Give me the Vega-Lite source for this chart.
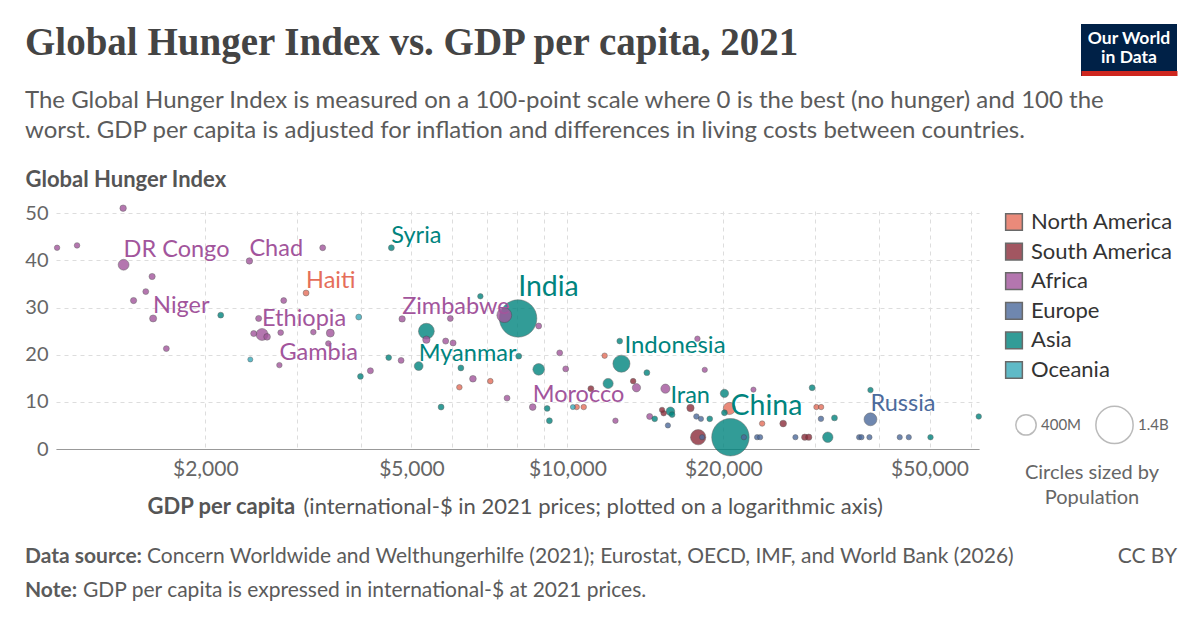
{
  "$schema": "https://vega.github.io/schema/vega-lite/v6.json",
  "background": "white",
  "padding": {"left": 24, "top": 24, "right": 20, "bottom": 10},
  "config": {
    "font": "Lato",
    "view": {"stroke": null},
    "axis": {"labelFont": "Lato", "titleFont": "Lato"},
    "legend": {"labelFont": "Lato", "titleFont": "Lato"}
  },
  "resolve": {"legend": {"color": "independent", "size": "independent"}},
  "spacing": 25,
  "vconcat": [
    {
      "bounds": "flush",
      "spacing": 0,
      "hconcat": [
        {
          "width": 1025,
          "height": 1,
          "title": {
            "text": "Global Hunger Index vs. GDP per capita, 2021",
            "subtitle": ["The Global Hunger Index is measured on a 100-point scale where 0 is the best (no hunger) and 100 the", "worst. GDP per capita is adjusted for inflation and differences in living costs between countries."],
            "orient": "bottom", "anchor": "start", "frame": "group", "dx": -31, "offset": -1,
            "baseline": "top",
            "font": "Liberation Serif", "fontSize": 39, "fontWeight": "bold", "color": "#444444",
            "subtitleFont": "Lato", "subtitleFontSize": 24, "subtitleColor": "#5b5b5b", "subtitleLineHeight": 29.5, "subtitlePadding": 26
          },
          "data": {"values": []},
          "mark": {"type": "point"}
        },
        {
          "width": 96,
          "height": 52,
          "view": {"fill": "#002147", "stroke": null},
          "data": {"values": [{"t": ["Our World", "in Data"], "p": 0.5}]},
          "mark": {"type": "text", "color": "white", "font": "Lato", "fontSize": 17.5, "fontWeight": "bold", "lineHeight": 19, "align": "center", "baseline": "middle", "dy": -11},
          "encoding": {
            "text": {"field": "t"},
            "x": {"field": "p", "type": "quantitative", "scale": {"domain": [0, 1]},
              "axis": {"orient": "bottom", "labels": false, "ticks": false, "grid": false, "title": null, "domainColor": "#CE261E", "domainWidth": 5, "offset": -3}}
          }
        }
      ]
    },
    {
      "spacing": 29,
      "resolve": {"legend": {"color": "independent", "size": "independent"}},
      "vconcat": [
        {
          "width": 923,
          "height": 238,
          "data": {"values": [
            {"continent": "Africa", "gdp": 1388, "ghi": 51.1, "pop": 17000000},
            {"continent": "Africa", "gdp": 1035, "ghi": 42.7, "pop": 5000000},
            {"continent": "Africa", "gdp": 1131, "ghi": 43.2, "pop": 6000000},
            {"continent": "Africa", "gdp": 1391, "ghi": 39.1, "pop": 95000000, "label": "DR Congo"},
            {"continent": "Africa", "gdp": 2433, "ghi": 39.9, "pop": 17000000, "label": "Chad"},
            {"continent": "Africa", "gdp": 3370, "ghi": 42.7, "pop": 10000000},
            {"continent": "Africa", "gdp": 1579, "ghi": 36.6, "pop": 14000000},
            {"continent": "Africa", "gdp": 1535, "ghi": 33.4, "pop": 10000000},
            {"continent": "Africa", "gdp": 1454, "ghi": 31.5, "pop": 14000000},
            {"continent": "Africa", "gdp": 1586, "ghi": 27.7, "pop": 25000000, "label": "Niger"},
            {"continent": "Africa", "gdp": 2834, "ghi": 31.5, "pop": 10000000},
            {"continent": "Africa", "gdp": 2535, "ghi": 27.7, "pop": 12000000},
            {"continent": "Africa", "gdp": 2480, "ghi": 24.5, "pop": 12000000},
            {"continent": "Africa", "gdp": 2574, "ghi": 24.3, "pop": 120000000, "label": "Ethiopia"},
            {"continent": "Africa", "gdp": 2632, "ghi": 23.8, "pop": 20000000},
            {"continent": "Africa", "gdp": 2796, "ghi": 24.7, "pop": 8000000},
            {"continent": "Africa", "gdp": 3233, "ghi": 24.8, "pop": 6000000},
            {"continent": "Africa", "gdp": 3486, "ghi": 24.6, "pop": 40000000},
            {"continent": "Africa", "gdp": 3455, "ghi": 22.4, "pop": 5000000},
            {"continent": "Africa", "gdp": 1682, "ghi": 21.3, "pop": 10000000},
            {"continent": "Africa", "gdp": 2780, "ghi": 17.8, "pop": 5000000, "label": "Gambia"},
            {"continent": "Africa", "gdp": 4797, "ghi": 27.6, "pop": 16000000, "label": "Zimbabwe"},
            {"continent": "Africa", "gdp": 4775, "ghi": 18.8, "pop": 10000000},
            {"continent": "Africa", "gdp": 4166, "ghi": 16.6, "pop": 12000000},
            {"continent": "Africa", "gdp": 5943, "ghi": 27.7, "pop": 10000000},
            {"continent": "Africa", "gdp": 5343, "ghi": 23.2, "pop": 30000000},
            {"continent": "Africa", "gdp": 5821, "ghi": 22.9, "pop": 12000000},
            {"continent": "Africa", "gdp": 6016, "ghi": 22.5, "pop": 12000000},
            {"continent": "Africa", "gdp": 7554, "ghi": 28.4, "pop": 200000000},
            {"continent": "Africa", "gdp": 8802, "ghi": 26.1, "pop": 10000000},
            {"continent": "Africa", "gdp": 9663, "ghi": 20.4, "pop": 10000000},
            {"continent": "Africa", "gdp": 9925, "ghi": 17.0, "pop": 10000000},
            {"continent": "Africa", "gdp": 6571, "ghi": 14.9, "pop": 20000000},
            {"continent": "Africa", "gdp": 7647, "ghi": 10.8, "pop": 10000000},
            {"continent": "Africa", "gdp": 8571, "ghi": 8.9, "pop": 20000000, "label": "Morocco"},
            {"continent": "Africa", "gdp": 17822, "ghi": 23.4, "pop": 5000000},
            {"continent": "Africa", "gdp": 18413, "ghi": 16.8, "pop": 3000000},
            {"continent": "Africa", "gdp": 13591, "ghi": 13.0, "pop": 45000000},
            {"continent": "Africa", "gdp": 15459, "ghi": 12.8, "pop": 60000000},
            {"continent": "Africa", "gdp": 12380, "ghi": 6.0, "pop": 5000000},
            {"continent": "Africa", "gdp": 14414, "ghi": 6.9, "pop": 12000000},
            {"continent": "Africa", "gdp": 22861, "ghi": 12.6, "pop": 2000000},
            {"continent": "Asia", "gdp": 4573, "ghi": 42.7, "pop": 10000000, "label": "Syria"},
            {"continent": "Asia", "gdp": 2142, "ghi": 28.4, "pop": 10000000},
            {"continent": "Asia", "gdp": 6792, "ghi": 32.4, "pop": 5000000},
            {"continent": "Asia", "gdp": 5343, "ghi": 25.0, "pop": 231000000},
            {"continent": "Asia", "gdp": 8033, "ghi": 27.7, "pop": 1408000000, "label": "India"},
            {"continent": "Asia", "gdp": 4519, "ghi": 19.4, "pop": 8000000},
            {"continent": "Asia", "gdp": 3986, "ghi": 15.4, "pop": 8000000},
            {"continent": "Asia", "gdp": 5163, "ghi": 17.6, "pop": 54000000, "label": "Myanmar"},
            {"continent": "Asia", "gdp": 6228, "ghi": 17.2, "pop": 10000000},
            {"continent": "Asia", "gdp": 8054, "ghi": 19.7, "pop": 10000000},
            {"continent": "Asia", "gdp": 8802, "ghi": 16.9, "pop": 113000000},
            {"continent": "Asia", "gdp": 12714, "ghi": 18.1, "pop": 274000000, "label": "Indonesia"},
            {"continent": "Asia", "gdp": 12618, "ghi": 22.9, "pop": 8000000},
            {"continent": "Asia", "gdp": 14236, "ghi": 16.2, "pop": 10000000},
            {"continent": "Asia", "gdp": 5704, "ghi": 8.9, "pop": 10000000},
            {"continent": "Asia", "gdp": 9138, "ghi": 8.6, "pop": 8000000},
            {"continent": "Asia", "gdp": 9231, "ghi": 6.0, "pop": 10000000},
            {"continent": "Asia", "gdp": 11983, "ghi": 13.9, "pop": 80000000},
            {"continent": "Asia", "gdp": 15805, "ghi": 8.0, "pop": 50000000, "label": "Iran"},
            {"continent": "Asia", "gdp": 15926, "ghi": 7.3, "pop": 8000000},
            {"continent": "Asia", "gdp": 14740, "ghi": 6.4, "pop": 8000000},
            {"continent": "Asia", "gdp": 18826, "ghi": 6.4, "pop": 8000000},
            {"continent": "Asia", "gdp": 20096, "ghi": 11.8, "pop": 45000000},
            {"continent": "Asia", "gdp": 20096, "ghi": 7.7, "pop": 10000000},
            {"continent": "Asia", "gdp": 20640, "ghi": 2.5, "pop": 1412000000, "label": "China"},
            {"continent": "Asia", "gdp": 29675, "ghi": 13.0, "pop": 10000000},
            {"continent": "Asia", "gdp": 38459, "ghi": 12.5, "pop": 5000000},
            {"continent": "Asia", "gdp": 32774, "ghi": 6.6, "pop": 10000000},
            {"continent": "Asia", "gdp": 62230, "ghi": 6.9, "pop": 5000000},
            {"continent": "Asia", "gdp": 31811, "ghi": 2.5, "pop": 85000000},
            {"continent": "Asia", "gdp": 50220, "ghi": 2.5, "pop": 5000000},
            {"continent": "Europe", "gdp": 38459, "ghi": 6.3, "pop": 145000000, "label": "Russia"},
            {"continent": "Europe", "gdp": 17742, "ghi": 6.9, "pop": 6000000},
            {"continent": "Europe", "gdp": 18104, "ghi": 6.4, "pop": 3000000},
            {"continent": "Europe", "gdp": 15631, "ghi": 5.0, "pop": 3000000},
            {"continent": "Europe", "gdp": 18197, "ghi": 2.5, "pop": 3000000},
            {"continent": "Europe", "gdp": 21912, "ghi": 2.5, "pop": 3000000},
            {"continent": "Europe", "gdp": 23236, "ghi": 2.5, "pop": 3000000},
            {"continent": "Europe", "gdp": 23551, "ghi": 2.5, "pop": 3000000},
            {"continent": "Europe", "gdp": 27551, "ghi": 2.5, "pop": 3000000},
            {"continent": "Europe", "gdp": 30860, "ghi": 6.4, "pop": 6000000},
            {"continent": "Europe", "gdp": 36570, "ghi": 2.5, "pop": 3000000},
            {"continent": "Europe", "gdp": 36950, "ghi": 2.5, "pop": 3000000},
            {"continent": "Europe", "gdp": 38282, "ghi": 2.5, "pop": 3000000},
            {"continent": "Europe", "gdp": 43800, "ghi": 2.5, "pop": 3000000},
            {"continent": "Europe", "gdp": 45600, "ghi": 2.5, "pop": 3000000},
            {"continent": "North America", "gdp": 3130, "ghi": 33.1, "pop": 11000000, "label": "Haiti"},
            {"continent": "North America", "gdp": 6187, "ghi": 13.1, "pop": 6000000},
            {"continent": "North America", "gdp": 7100, "ghi": 14.4, "pop": 6000000},
            {"continent": "North America", "gdp": 10423, "ghi": 8.9, "pop": 5000000},
            {"continent": "North America", "gdp": 10752, "ghi": 8.9, "pop": 6000000},
            {"continent": "North America", "gdp": 11799, "ghi": 19.8, "pop": 5000000},
            {"continent": "North America", "gdp": 20543, "ghi": 8.6, "pop": 127000000},
            {"continent": "North America", "gdp": 23762, "ghi": 5.4, "pop": 5000000},
            {"continent": "North America", "gdp": 30245, "ghi": 8.9, "pop": 4000000},
            {"continent": "North America", "gdp": 30888, "ghi": 8.9, "pop": 4000000},
            {"continent": "South America", "gdp": 17881, "ghi": 2.5, "pop": 214000000},
            {"continent": "South America", "gdp": 11100, "ghi": 12.8, "pop": 11000000},
            {"continent": "South America", "gdp": 13394, "ghi": 14.4, "pop": 6000000},
            {"continent": "South America", "gdp": 15230, "ghi": 8.3, "pop": 4000000},
            {"continent": "South America", "gdp": 15340, "ghi": 7.6, "pop": 6000000},
            {"continent": "South America", "gdp": 17280, "ghi": 8.7, "pop": 30000000},
            {"continent": "South America", "gdp": 26090, "ghi": 5.4, "pop": 20000000},
            {"continent": "South America", "gdp": 28716, "ghi": 2.5, "pop": 15000000},
            {"continent": "South America", "gdp": 29230, "ghi": 2.5, "pop": 15000000},
            {"continent": "Oceania", "gdp": 3955, "ghi": 28.0, "pop": 10000000},
            {"continent": "Oceania", "gdp": 2443, "ghi": 19.0, "pop": 1000000},
            {"continent": "Oceania", "gdp": 10247, "ghi": 8.9, "pop": 1000000}
          ]},
          "resolve": {"axis": {"x": "independent"}},
          "layer": [
            {
              "mark": {"type": "point", "filled": true, "shape": "circle", "opacity": 0.8, "stroke": "#444444", "strokeWidth": 0.5},
              "encoding": {
                "x": {"field": "gdp", "type": "quantitative",
                  "scale": {"type": "log", "domain": [1030, 62300], "nice": false},
                  "axis": {"orient": "bottom", "values": [2000, 3000, 4000, 5000, 6000, 7000, 8000, 9000, 10000, 20000, 30000, 40000, 50000, 60000],
                    "labelExpr": "indexof([2000, 5000, 10000, 20000, 50000], datum.value) >= 0 ? '$' + format(datum.value, ',') : ''",
                    "labelOverlap": false, "labelBound": false, "labelFlush": false,
                    "labelFontSize": 21, "labelColor": "#666666", "labelPadding": 9,
                    "grid": true, "gridDash": [4, 4], "gridColor": "#dddddd", "ticks": false,
                    "domain": true, "domainColor": "#999999",
                    "title": "GDP per capita", "titleFontWeight": "bold", "titleFontSize": 22, "titleColor": "#555555",
                    "titleAlign": "left", "titleBaseline": "alphabetic", "titleX": 91, "titleY": 64}},
                "y": {"field": "ghi", "type": "quantitative",
                  "scale": {"domain": [0, 50.5], "nice": false},
                  "axis": {"values": [0, 10, 20, 30, 40, 50], "labelFontSize": 20, "labelColor": "#666666", "labelPadding": 8,
                    "grid": true, "gridDash": [4, 4], "gridColor": "#dddddd", "ticks": false, "domain": false,
                    "title": "Global Hunger Index", "titleAngle": 0, "titleAlign": "left", "titleBaseline": "middle",
                    "titleX": -31, "titleY": -32, "titleFontWeight": "bold", "titleFontSize": 22, "titleColor": "#555555"}},
                "color": {"field": "continent", "type": "nominal",
                  "scale": {"domain": ["North America", "South America", "Africa", "Europe", "Asia", "Oceania"],
                    "range": ["#E56E5A", "#8C2D3A", "#A2559C", "#4C6A9C", "#00847E", "#38AABA"]},
                  "legend": {"title": null, "orient": "right", "offset": 24, "padding": 0, "symbolType": "square", "symbolSize": 279,
                    "labelFontSize": 22, "labelColor": "#333333", "labelOffset": 6, "rowPadding": 5.6,
                    "encode": {"symbols": {"update": {"stroke": {"value": "transparent"}, "opacity": {"value": 0.8}}}}}},
                "size": {"field": "pop", "type": "quantitative",
                  "scale": {"type": "linear", "domain": [0, 1410000000], "range": [25, 1400]},
                  "legend": {"title": ["Circles sized by", "Population"], "titleOrient": "bottom", "titleAnchor": "middle", "titlePadding": 16,
                    "titleFontSize": 20, "titleFontWeight": "normal", "titleColor": "#666666", "titleLineHeight": 25,
                    "values": [400000000, 1400000000], "direction": "horizontal", "orient": "none", "legendX": 959, "legendY": 194,
                    "symbolFillColor": "transparent", "symbolStrokeColor": "#aaaaaa", "symbolStrokeWidth": 1.5,
                    "labelExpr": "datum.value >= 1000000000 ? '1.4B' : '400M'", "labelFontSize": 15, "labelColor": "#666666",
                    "encode": {"symbols": {"update": {"fillOpacity": {"value": 0}, "strokeOpacity": {"value": 1}, "stroke": {"value": "#aaaaaa"}, "strokeWidth": {"value": 1.5}}}}}},
                "order": {"field": "pop", "type": "quantitative", "sort": "descending"}
              }
            },
            {
              "transform": [{"filter": {"field": "label", "oneOf": ["Chad", "Niger", "Haiti", "Syria", "Zimbabwe", "Gambia", "Myanmar", "Morocco"]}}],
              "mark": {"type": "text", "align": "left", "baseline": "alphabetic", "fontSize": 23.5, "dy": -5},
              "encoding": {
                "x": {"field": "gdp", "type": "quantitative", "scale": {"type": "log", "domain": [1030, 62300], "nice": false},
                  "axis": {"orient": "bottom", "labels": false, "grid": false, "ticks": false, "domain": false,
                    "title": "(international-$ in 2021 prices; plotted on a logarithmic axis)", "titleFontWeight": "normal", "titleFontSize": 22, "titleColor": "#555555",
                    "titleAlign": "left", "titleBaseline": "alphabetic", "titleX": 247, "titleY": 64}},
                "y": {"field": "ghi", "type": "quantitative", "scale": {"domain": [0, 50.5], "nice": false}},
                "text": {"field": "label"},
                "color": {"field": "continent", "type": "nominal"}
              }
            },
            {
              "transform": [{"filter": {"field": "label", "oneOf": ["DR Congo", "Ethiopia", "Iran", "Russia"]}}],
              "mark": {"type": "text", "align": "left", "baseline": "alphabetic", "fontSize": 23.5, "dy": -8},
              "encoding": {
                "x": {"field": "gdp", "type": "quantitative", "scale": {"type": "log", "domain": [1030, 62300], "nice": false}, "axis": null},
                "y": {"field": "ghi", "type": "quantitative", "scale": {"domain": [0, 50.5], "nice": false}},
                "text": {"field": "label"},
                "color": {"field": "continent", "type": "nominal"}
              }
            },
            {
              "transform": [{"filter": {"field": "label", "oneOf": ["Indonesia"]}}],
              "mark": {"type": "text", "align": "left", "baseline": "alphabetic", "fontSize": 24, "dy": -11, "dx": 3},
              "encoding": {
                "x": {"field": "gdp", "type": "quantitative", "scale": {"type": "log", "domain": [1030, 62300], "nice": false}, "axis": null},
                "y": {"field": "ghi", "type": "quantitative", "scale": {"domain": [0, 50.5], "nice": false}},
                "text": {"field": "label"},
                "color": {"field": "continent", "type": "nominal"}
              }
            },
            {
              "transform": [{"filter": {"field": "label", "oneOf": ["India", "China"]}}],
              "mark": {"type": "text", "align": "left", "baseline": "alphabetic", "fontSize": 28.5, "dy": -22},
              "encoding": {
                "x": {"field": "gdp", "type": "quantitative", "scale": {"type": "log", "domain": [1030, 62300], "nice": false}, "axis": null},
                "y": {"field": "ghi", "type": "quantitative", "scale": {"domain": [0, 50.5], "nice": false}},
                "text": {"field": "label"},
                "color": {"field": "continent", "type": "nominal"}
              }
            }
          ]
        },
        {
          "width": 1121,
          "height": 34,
          "data": {"values": [
            {"line": 1, "label": "Data source:", "text": "Concern Worldwide and Welthungerhilfe (2021); Eurostat, OECD, IMF, and World Bank (2026)", "license": "CC BY"},
            {"line": 2, "label": "Note:", "text": "GDP per capita is expressed in international-$ at 2021 prices.", "license": ""}
          ]},
          "encoding": {"y": {"field": "line", "type": "ordinal", "axis": null, "scale": {"type": "point", "padding": 0}}},
          "layer": [
            {"mark": {"type": "text", "align": "left", "baseline": "middle", "fontSize": 21, "fontWeight": "bold", "color": "#5b5b5b", "dx": -31},
             "encoding": {"x": {"value": 0}, "text": {"field": "label"}}},
            {"transform": [{"filter": "datum.line == 1"}],
             "mark": {"type": "text", "align": "left", "baseline": "middle", "fontSize": 21, "color": "#5b5b5b", "dx": 91},
             "encoding": {"x": {"value": 0}, "text": {"field": "text"}}},
            {"transform": [{"filter": "datum.line == 2"}],
             "mark": {"type": "text", "align": "left", "baseline": "middle", "fontSize": 21, "color": "#5b5b5b", "dx": 27},
             "encoding": {"x": {"value": 0}, "text": {"field": "text"}}},
            {"transform": [{"filter": "datum.line == 1"}],
             "mark": {"type": "text", "align": "right", "baseline": "middle", "fontSize": 21, "color": "#5b5b5b"},
             "encoding": {"x": {"value": "width"}, "text": {"field": "license"}}}
          ]
        }
      ]
    }
  ]
}
